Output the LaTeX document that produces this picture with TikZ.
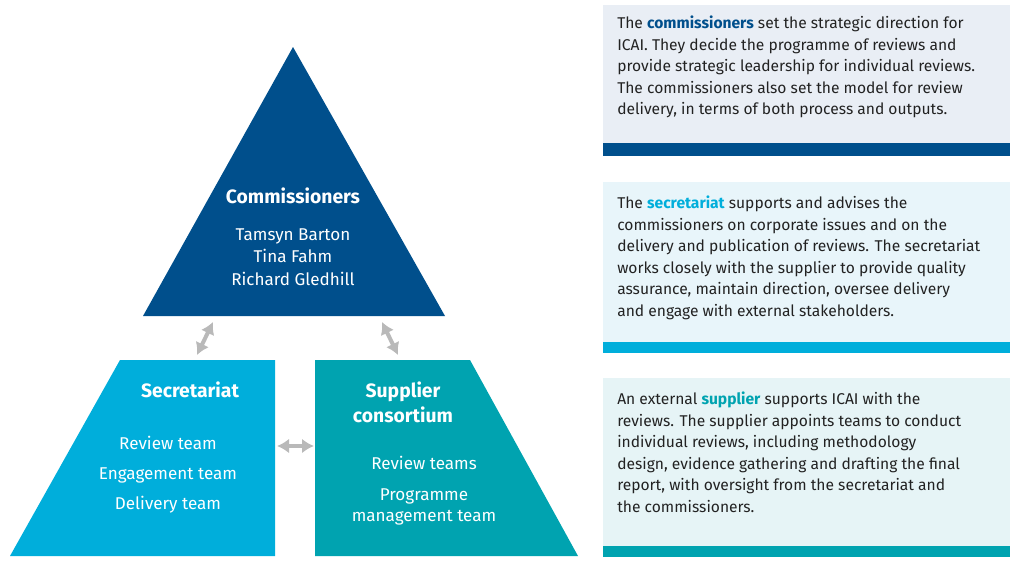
\documentclass[tikz,border=0pt]{standalone}
\usepackage{fontspec}
\setmainfont{Fira Sans}
\begin{document}
\definecolor{dblue}{HTML}{004F8C}
\definecolor{lblue}{HTML}{00AEDB}
\definecolor{teal1}{HTML}{00A3B0}
\definecolor{p1}{HTML}{E9EEF5}
\definecolor{p2}{HTML}{E8F5FA}
\definecolor{p3}{HTML}{E6F4F6}
\definecolor{txt}{HTML}{222222}
\begin{tikzpicture}[x=0.75pt,y=-0.75pt,
  wt/.style={text=white,align=center,font=\fontsize{12.8}{17}\selectfont},
  wh/.style={text=white,align=center,font=\fontsize{14.5}{19}\selectfont\bfseries},
  pt/.style={anchor=north west,align=left,text=txt,inner sep=0,font=\fontsize{11.7}{16.1}\selectfont},
  dbl/.style={gray!55,line width=3pt,{Latex[length=9pt,width=11pt]}-{Latex[length=9pt,width=11pt]}}]
\usetikzlibrary{arrows.meta}
\useasboundingbox (0,0) rectangle (1024,565);
% shapes
\fill[dblue] (293,47) -- (445,316) -- (143,316) -- cycle;
\fill[lblue] (120,360) -- (275,360) -- (275,556) -- (10,556) -- cycle;
\fill[teal1] (315,360) -- (470,360) -- (578,556) -- (315,556) -- cycle;
\node[wh] (com) at (293,196) {Commissioners};
\node[wt] (cnames) at (293,257) {Tamsyn Barton\\Tina Fahm\\Richard Gledhill};
\node[wh] (sec) at (190,390) {Secretariat};
\node[wt,font=\fontsize{12.8}{22.5}\selectfont] (stm) at (168,475) {Review team\\Engagement team\\Delivery team};
\node[wh] (sup) at (403,402) {Supplier\\consortium};
\node[wt] (rt) at (424,463) {Review teams};
\node[wt,font=\fontsize{12.8}{16}\selectfont] (pm) at (424,507) {Programme\\management team};
\coordinate (a1) at (197,355); \coordinate (a2) at (213,322);
\coordinate (b1) at (382,322); \coordinate (b2) at (398,355);
\coordinate (c1) at (277,446); \coordinate (c2) at (314,446);
\draw[dbl] (a1) -- (a2);
\draw[dbl] (b1) -- (b2);
\draw[dbl] (c1) -- (c2);
% panels
\fill[p1] (603,5) rectangle (1010,143);
\fill[dblue] (603,143) rectangle (1010,156);
\fill[p2] (603,182) rectangle (1010,342);
\fill[lblue] (603,342) rectangle (1010,353);
\fill[p3] (603,378) rectangle (1010,546);
\fill[teal1] (603,546) rectangle (1010,557);
\node[pt] (t1) at (617,16) {The \textbf{\color{dblue}commissioners} set the strategic direction for\\ICAI. They decide the programme of reviews and\\provide strategic leadership for individual reviews.\\The commissioners also set the model for review\\delivery, in terms of both process and outputs.};
\node[pt] (t2) at (617,196) {The \textbf{\color{lblue}secretariat} supports and advises the\\commissioners on corporate issues and on the\\delivery and publication of reviews. The secretariat\\works closely with the supplier to provide quality\\assurance, maintain direction, oversee delivery\\and engage with external stakeholders.};
\node[pt] (t3) at (617,392) {An external \textbf{\color{teal1}supplier} supports ICAI with the\\reviews. The supplier appoints teams to conduct\\individual reviews, including methodology\\design, evidence gathering and drafting the final\\report, with oversight from the secretariat and\\the commissioners.};
\end{tikzpicture}
\end{document}
